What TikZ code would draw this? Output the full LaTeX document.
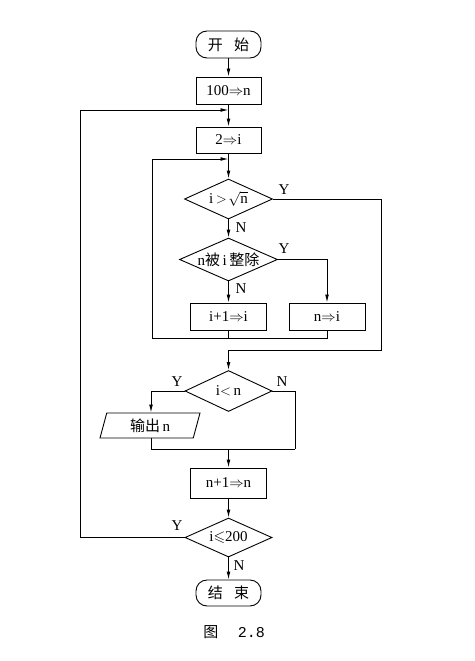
\documentclass[tikz,border=0pt]{standalone}
\usepackage{amssymb}
\usepackage{fontspec}
\setmainfont{Liberation Serif}
\newfontfamily\cjk{Noto Sans CJK SC}
\newfontfamily\capmono{Liberation Mono}
\usetikzlibrary{shapes.geometric,arrows.meta}
\begin{document}
\begin{tikzpicture}[x=1pt,y=-1pt,
  font=\fontsize{15}{17}\selectfont,
  line width=0.9pt,
  arr/.style={-{Latex[length=8pt,width=3.8pt]}},
  proc/.style={draw, rectangle, inner sep=0pt, minimum width=76pt, minimum height=27pt},
  dec/.style={draw, diamond, inner sep=0pt, aspect=1},
  term/.style={draw, rectangle, rounded corners=11pt, inner sep=0pt, minimum width=65pt, minimum height=27pt},
  io/.style={draw, trapezium, trapezium left angle=64, trapezium right angle=116,
     trapezium stretches body, inner sep=0pt, minimum width=100pt, minimum height=25pt},
  lab/.style={inner sep=0pt, font=\fontsize{15}{17}\selectfont}]
\useasboundingbox (0,0) rectangle (474,661);

% nodes
\node[term] (start) at (228.5,44.5) {{\cjk 开}\hspace{0.75em}{\cjk 始}};
\node[proc, minimum width=65pt] (n100) at (228.5,90.5) {100$\Rightarrow$n};
\node[proc, minimum width=65pt, minimum height=26pt] (i2) at (228.5,140) {2$\Rightarrow$i};
\node[dec, minimum width=88pt, minimum height=40pt] (d1) at (228.5,199) {\makebox[0pt]{i\,$>\!\sqrt{\mbox{n}}$}};
\node[dec, minimum width=98pt, minimum height=43pt] (d2) at (228.5,259.5) {\makebox[0pt]{n{\cjk 被}\,i\,{\cjk 整除}}};
\node[proc] (b1) at (228.5,316.5) {i+1$\Rightarrow$i};
\node[proc] (b2) at (327,316.5) {n$\Rightarrow$i};
\node[dec, minimum width=87pt, minimum height=41pt] (d3) at (228.5,391) {\makebox[0pt]{i$<$\,n}};
\node[io] (pg) at (150,425.5) {{\cjk 输出}\,n};
\node[proc, minimum height=30pt] (b3) at (228.5,483) {n+1$\Rightarrow$n};
\node[dec, minimum width=87pt, minimum height=39pt] (d4) at (228.5,537.5) {\makebox[0pt]{i$\leqslant$200}};
\node[term, minimum height=26pt] (end) at (228.5,593) {{\cjk 结}\hspace{0.75em}{\cjk 束}};
\node[inner sep=0pt] (cap) at (234,632) {{\cjk 图}\hspace{1.3em}{\capmono 2.8}};

% helper coordinates
\coordinate (o1) at (80,110);
\coordinate (l1) at (152,338);
\coordinate (l2) at (152,159);
\coordinate (r1) at (381,350);
\coordinate (m1) at (228.5,350);
\coordinate (p1) at (151,391);
\coordinate (q1) at (151,449);
\coordinate (q2) at (295,449);

% main flow
\draw[arr] (start) -- (n100);
\draw[arr] (n100) -- (i2);
\draw[arr] (i2) -- (d1);
\draw[arr] (d1) -- (d2);
\draw[arr] (d2) -- (b1);
\draw[arr] (b3) -- (d4);
\draw[arr] (d4) -- (end);

% d1 yes branch
\draw[arr] (d1.east) -| (r1) -- (m1) -- (d3.north);
% d2 yes branch
\draw[arr] (d2.east) -| (b2.north);
% inner loop
\draw (b1.south) -- (b1.south |- l1);
\draw[arr] (b2.south) |- (l1) -- (l2) -- (i2.south |- l2);
% d3 branches
\draw[arr] (d3.west) -- (p1) -- (p1 |- pg.north);
\draw (p1 |- pg.south) -- (q1) -- (q2);
\draw (d3.east) -| (q2);
\draw[arr] (b3.north |- q1) -- (b3.north);
% outer loop
\draw[arr] (d4.west) -| (o1) -- (n100.south |- o1);

% labels
\node[lab] (y1) at (284,190) {Y};
\node[lab] (n1) at (241,228) {N};
\node[lab] (y2) at (284,249) {Y};
\node[lab] (n2) at (241,289) {N};
\node[lab] (y3) at (177,382) {Y};
\node[lab] (n3) at (282,382) {N};
\node[lab] (y4) at (177,526) {Y};
\node[lab] (n4) at (239,566) {N};
\end{tikzpicture}
\end{document}
